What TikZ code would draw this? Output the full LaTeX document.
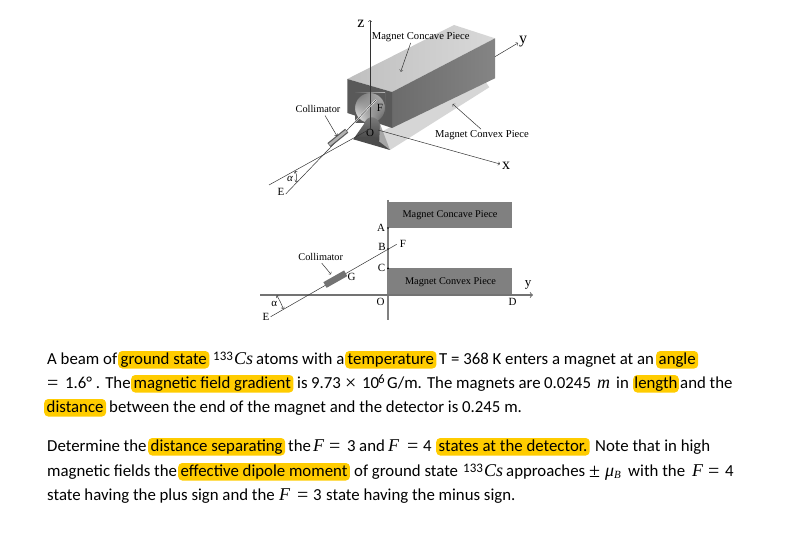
\documentclass[tikz,border=0pt]{standalone}
\usepackage{fontspec}
\setmainfont{Carlito}
\newfontfamily\mathserif{Liberation Serif}
\newcommand{\mvar}[1]{{\mathserif\itshape\fontsize{18}{20}\selectfont #1}}
\newcommand{\msign}[1]{\raisebox{-1.2pt}{\mathserif\fontsize{20}{20}\selectfont #1}}
\usetikzlibrary{positioning,shadings}
\definecolor{markyellow}{HTML}{FFCC00}
\definecolor{magnetgray}{HTML}{808080}

\begin{document}
\begin{tikzpicture}[
x=1pt,y=-1pt,
bodytext/.style={anchor=base west, inner sep=0pt, font=\fontsize{16.8}{18}\selectfont},
suptext/.style={bodytext, font=\fontsize{13}{14}\selectfont},
marked/.style={bodytext, fill=markyellow, rounded corners=4pt, inner xsep=2.5pt, inner ysep=1pt, text height=12pt, text depth=3.5pt},
figlabel/.style={inner sep=0pt, font=\mathserif\fontsize{10.3}{12}\selectfont},
toplabel/.style={inner sep=0pt, font=\mathserif\fontsize{10.6}{12}\selectfont},
axislabel/.style={inner sep=0pt, font=\mathserif\fontsize{16}{17}\selectfont},
pointlabel/.style={inner sep=0pt, font=\mathserif\fontsize{11}{12}\selectfont},
thinline/.style={draw=black!80, line width=0.5pt},
pointdot/.style={circle, fill=black, inner sep=0.7pt},
]
\useasboundingbox (0,0) rectangle (791,534);

%3D magnet
\coordinate (ftl) at (347.3,79);
\coordinate (ftr) at (392,92);
\coordinate (btr) at (495,38.3);
\coordinate (btl) at (454,25);
\coordinate (fbl) at (347.3,113);
\coordinate (fbr) at (392,128);
\coordinate (bbr) at (495,78.3);
\fill[black!16] (381.7,131.7) -- (483,78) -- (489.3,87.3) -- (390,150) -- cycle;
\shade[left color=black!25, right color=black!15] (ftl) -- (btl) -- (btr) -- (ftr) -- cycle;
\shade[left color=black!58, right color=black!48] (ftr) -- (btr) -- (bbr) -- (fbr) -- cycle;
\fill[black!65] (ftl) -- (ftr) -- (fbr) -- (fbl) -- cycle;
\shade[lower left=white, upper left=black!60, upper right=black!25, lower right=black!70] (355,93) rectangle (385,123);
\fill[black!65, even odd rule] (355,93) rectangle (385,123) (370,108) circle (15);
\shade[top color=black!50, middle color=white, bottom color=black!75] (353.3,139.3) -- (364,124) .. controls (367,115) and (376,115) .. (380,124) -- (383,143) -- cycle;
\fill[black!35] (380,124) -- (390,150) -- (379,146) -- cycle;
\fill[black!70] (353.3,139.3) -- (390,150) -- (372,136) -- cycle;

%Axes
\node[axislabel](zlabel) at (361,24){z};
\node[axislabel](ylabel) at (523,42){y};
\node[axislabel](xlabel) at (506,166){x};
\node[pointlabel](olabel) at (370,133){O};
\node[pointlabel](flabel) at (380,108){F};
\node[pointlabel](elabel) at (281,192){E};
\node[pointlabel,font=\mathserif\itshape\fontsize{11}{12}\selectfont](alabel) at (290,178.7){α};
\coordinate (zfoot) at (370,130);
\coordinate (ztip) at (370,20);
\coordinate (yfoot) at (495,56.7);
\coordinate (ytip) at (518,43);
\coordinate (xfoot) at (378,130);
\coordinate (xtip) at (500,164);
\coordinate (beamstart) at (285.7,194);
\coordinate (beamend) at (376,100);
\coordinate (axisstart) at (269,185);
\coordinate (axisend) at (370,129);
\draw[thinline,->](zfoot) -- (ztip);
\draw[thinline,->](yfoot) -- (ytip);
\draw[thinline,->](xfoot) -- (xtip);
\draw[line width=1.6pt, white](beamstart) -- (beamend);
\draw[thinline](beamstart) -- (beamend);
\draw[thinline](axisstart) -- (axisend);
\draw[thinline,<->](295,171) .. controls (297,175) and (297,179) .. (295.7,182);
\draw[line width=5pt, black!65](329,145) -- (346.7,130.7);
\draw[line width=2.6pt, black!30](329.5,144.6) -- (346.2,131.1);

%Labels of the 3D magnet
\node[toplabel](concavetop) at (420.7,37){Magnet Concave Piece};
\node[toplabel](convextop) at (482,135){Magnet Convex Piece};
\node[figlabel](colltop) at (318,108.7){Collimator};
\coordinate (concavetopend) at (400.7,71.7);
\coordinate (convextopend) at (452.7,104);
\coordinate (colltopend) at (337,136);
\draw[thinline,->](concavetop.south)++(-10,1) -- (concavetopend);
\draw[thinline,->](convextop.north)++(-1,-1) -- (convextopend);
\draw[thinline,->](colltop.south)++(7,3) -- (colltopend);

%Side view
\fill[magnetgray] (388,201.7) rectangle (512.3,227.7);
\fill[magnetgray] (388,268.3) rectangle (512.3,295);
\node[figlabel](concaveside) at (450,215.3){Magnet Concave Piece};
\node[figlabel](convexside) at (450.5,282.3){Magnet Convex Piece};
\coordinate (vtop) at (388,200);
\coordinate (vbot) at (388,320);
\coordinate (hleft) at (260,295);
\coordinate (hright) at (533,295);
\draw[black!50, line width=1.1pt](vtop) -- (vbot);
\draw[black!55, line width=1.1pt, ->](hleft) -- (hright);
\node[pointdot](pa) at (388,228){};
\node[pointdot](pb) at (388,249){};
\node[pointdot](pc) at (388,268.3){};
\node[pointlabel,left=1.5pt of pa](alab){A};
\node[pointlabel,left=1pt of pb,yshift=2pt](blab){B};
\node[pointlabel,left=1.5pt of pc](clab){C};
\node[pointlabel](fside) at (403,244.3){F};
\node[pointlabel](gside) at (351.7,276.7){G};
\node[pointlabel](oside) at (380.7,301.7){O};
\node[pointlabel](dside) at (512.7,301.7){D};
\node[pointlabel](eside) at (266,316.7){E};
\node[pointlabel](aside) at (274.3,304.3){α};
\node[axislabel,font=\mathserif\fontsize{13}{14}\selectfont](yside) at (528,285){y};
\coordinate (sidestart) at (270.7,316.7);
\coordinate (sideend) at (396.7,244.3);
\draw[thinline](sidestart) -- (sideend);
\draw[line width=6.5pt, black!55](325,285) -- (345.7,273.3);
\node[figlabel](collside) at (320.7,257.3){Collimator};
\coordinate (collsideend) at (331,274.3);
\draw[thinline,->](collside.south)++(1,2) -- (collsideend);
\draw[thinline,<->](276.7,295.5) .. controls (279,299) and (281.5,304) .. (283.3,309);

%Paragraph one
\node[bodytext](l1a) at (47,364){A beam of};
\node[marked](l1b) at (118,364){ground state};
\node[suptext](l1c) at (213,360){133};
\node[bodytext](l1d) at (234,364){\mvar{Cs}};
\node[bodytext](l1e) at (256,364){atoms with a};
\node[marked](l1f) at (345,364){temperature};
\node[bodytext](l1g) at (439,364){T = 368 K enters a magnet at an};
\node[marked](l1h) at (656,364){angle};

\node[bodytext](l2a) at (47,388){\msign{=}};
\node[bodytext](l2b) at (65,388){1.6° . The};
\node[marked](l2c) at (131,388){magnetic field gradient};
\node[bodytext](l2d) at (297,388){is};
\node[bodytext](l2e) at (311,388){9.73};
\node[bodytext](l2f) at (345,388){\msign{×}};
\node[bodytext](l2g) at (362,388){10};
\node[suptext](l2h) at (378,383){6};
\node[bodytext](l2i) at (387,388){G/m. The magnets are};
\node[bodytext](l2j) at (544,388){0.0245};
\node[bodytext](l2k) at (597,388){\mvar{m}};
\node[bodytext](l2l) at (616,388){in};
\node[marked,inner xsep=1.2pt](l2m) at (633,388){length};
\node[bodytext](l2n) at (680,388){and the};

\node[marked](l3a) at (44,412){distance};
\node[bodytext](l3b) at (109,412){between the end of the magnet and the detector is 0.245 m.};

%Paragraph two
\node[bodytext](p1a) at (47,451){Determine the};
\node[marked](p1b) at (148,451){distance separating};
\node[bodytext](p1c) at (288,451){the};
\node[bodytext](p1d) at (313,451){\mvar{F}};
\node[bodytext](p1e) at (329,451){\msign{=}};
\node[bodytext](p1f) at (347,451){3};
\node[bodytext](p1g) at (359,451){and};
\node[bodytext](p1h) at (388,451){\mvar{F}};
\node[bodytext](p1i) at (407,451){\msign{=}};
\node[bodytext](p1j) at (423,451){4};
\node[marked](p1k) at (436,451){states at the detector.};
\node[bodytext](p1l) at (595,451){Note that in high};

\node[bodytext](p2a) at (47,476){magnetic fields the};
\node[marked](p2b) at (178,476){effective dipole moment};
\node[bodytext](p2c) at (354,476){of ground state};
\node[suptext](p2d) at (463,472){133};
\node[bodytext](p2e) at (484,476){\mvar{Cs}};
\node[bodytext](p2f) at (506,476){approaches};
\node[bodytext](p2g) at (589,476){\msign{±}};
\node[bodytext](p2h) at (605,476){\mvar{μ}\raisebox{-2pt}{\fontsize{11}{12}\selectfont\itshape\mathserif B}};
\node[bodytext](p2i) at (628,476){with the};
\node[bodytext](p2j) at (692,476){\mvar{F}};
\node[bodytext](p2k) at (708,476){\msign{=}};
\node[bodytext](p2l) at (725,476){4};

\node[bodytext](p3a) at (47,500){state having the plus sign and the};
\node[bodytext](p3b) at (279,500){\mvar{F}};
\node[bodytext](p3c) at (297,500){\msign{=}};
\node[bodytext](p3d) at (313,500){3};
\node[bodytext](p3e) at (326,500){state having the minus sign.};
\end{tikzpicture}
\end{document}
